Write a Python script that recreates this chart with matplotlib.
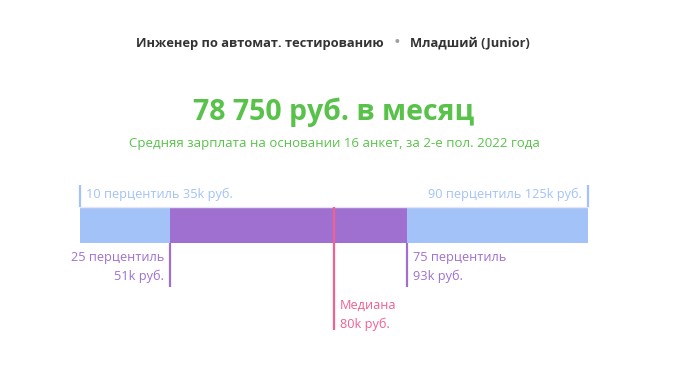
import matplotlib
matplotlib.use("Agg")
import matplotlib.pyplot as plt

# Data (thousand rubles)
p10 = 35
p25 = 51
median = 80
p75 = 93
p90 = 125
title_left = "Инженер по автомат. тестированию"
title_right = "Младший (Junior)"
headline = "78 750 руб. в месяц"
subtitle = "Средняя зарплата на основании 16 анкет, за 2-е пол. 2022 года"

W, H = 698, 366
fig = plt.figure(figsize=(W / 100, H / 100), dpi=100)
ax = fig.add_axes([0, 0, 1, 1])
scale = (588 - 80) / (p90 - p10)
ax.set_xlim(p10 - 80 / scale, p10 + (W - 80) / scale)
ax.set_ylim(H, 0)
ax.axis("off")

plt.rcParams['font.family'] = ['Open Sans', 'DejaVu Sans']
FONT = ['Open Sans', 'DejaVu Sans']

blue = "#a3c2f7"
purple = "#a070d0"
pink = "#f2608e"
green = "#58c24a"

bar_top, bar_bot = 207, 243
ax.fill_between([p10, p90], bar_top, bar_bot, color=blue, lw=0)
ax.fill_between([p25, p75], bar_top, bar_bot, color=purple, lw=0)
ax.plot([p10, p90], [bar_top, bar_top], color="#e6e6f5", lw=1)

# ticks
lw = 1.6
ax.plot([p10, p10], [185, bar_top], color=blue, lw=lw, solid_capstyle="butt")
ax.plot([p90, p90], [185, bar_top], color=blue, lw=lw, solid_capstyle="butt")
ax.plot([p25, p25], [bar_bot, 287], color=purple, lw=lw, solid_capstyle="butt")
ax.plot([p75, p75], [bar_bot, 287], color=purple, lw=lw, solid_capstyle="butt")
ax.plot([median, median], [bar_top, 330], color=pink, lw=lw, solid_capstyle="butt")

off = 6 / scale
fs = 9.2
ax.text(p10 + off, 194, f"10 перцентиль {p10}k руб.", color=blue, fontsize=fs,
        ha="left", va="center", family=FONT)
ax.text(p90 - off, 194, f"90 перцентиль {p90}k руб.", color=blue, fontsize=fs,
        ha="right", va="center", family=FONT)
ax.text(p25 - off, 267, f"25 перцентиль\n{p25}k руб.", color=purple, fontsize=fs,
        ha="right", va="center", family=FONT, linespacing=1.55, multialignment="right")
ax.text(p75 + off, 267, f"75 перцентиль\n{p75}k руб.", color=purple, fontsize=fs,
        ha="left", va="center", family=FONT, linespacing=1.55)
ax.text(median + off, 315, f"Медиана\n{median}k руб.", color=pink, fontsize=fs,
        ha="left", va="center", family=FONT, linespacing=1.55)

# titles (figure coords)
cx = 334 / W
ty = 1 - 43 / H
fig.text(384 / W, ty, title_left, ha="right", va="center",
         fontsize=9.3, fontweight="bold", color="#333333", family=FONT)
fig.text(397 / W, ty, "•", ha="center", va="center",
         fontsize=13, color="#a0a0a0", family=FONT)
fig.text(410 / W, ty, title_right, ha="left", va="center",
         fontsize=9.3, fontweight="bold", color="#333333", family=FONT)
fig.text(cx, 1 - 112 / H, headline, ha="center", va="center", fontsize=20.5,
         fontweight="bold", color=green, family=FONT)
fig.text(cx, 1 - 144 / H, subtitle, ha="center", va="center", fontsize=9.5,
         color=green, family=FONT)

fig.savefig("out.png", dpi=100)
